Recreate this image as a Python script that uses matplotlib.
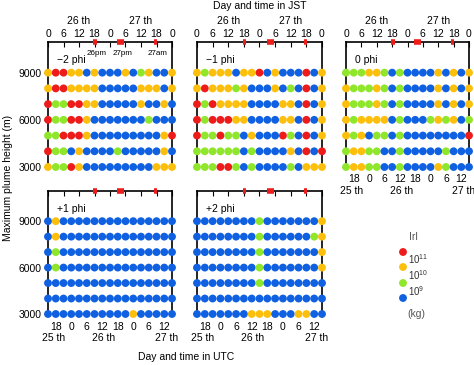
import matplotlib.pyplot as plt
import numpy as np

plt.rcParams['font.family'] = ['Liberation Sans', 'DejaVu Sans']
plt.rcParams['font.size'] = 7.5
plt.rcParams['mathtext.fontset'] = 'custom'
plt.rcParams['mathtext.rm'] = 'Liberation Sans'

# time axis (hours from 26th 00 JST), every 3 h
hours = np.arange(0, 49, 3)
heights = [9000, 8000, 7000, 6000, 5000, 4000, 3000]

jst_ticks = [0, 6, 12, 18, 24, 30, 36, 42, 48]
jst_labels = ['0', '6', '12', '18', '0', '6', '12', '18', '0']
jst_day_pos = [12, 36]
jst_day_labels = ['26 th', '27 th']

utc_ticks = [3, 9, 15, 21, 27, 33, 39, 45]
utc_labels = ['18', '0', '6', '12', '18', '0', '6', '12']
utc_day_pos = [2, 21.5, 46]
utc_day_labels = ['25 th', '26 th', '27 th']

eruptions = [(17.5, 19.0), (26.7, 29.4), (41.0, 42.2)]
eruption_labels = ['26pm', '27pm', '27am']

# mass class per cell: R 1e11, Y 1e10, G 1e9, B below; rows 9000 m -> 3000 m
grid_m2 = ["YRRYYBYBBBYBGYBBY",
           "YRRYYYYBBBBBYYYBY",
           "RGGRRYYBBBBBYBBYB",
           "RGGRRYBBBBBBBGBBB",
           "GGRRRYBBBBBBBBBYR",
           "RGGBYBBBBGBBBBBYB",
           "YGGRYBBBBBBBBBYYY"]
grid_m1 = ["YGYYYBYYRBYBBBRBY",
           "YRYYYGYBBBYBGBRBY",
           "RGRYYYYBBBBYYBRBY",
           "RGRRRYYBBBBYYBRBY",
           "RGGRGGBYBBBRGBRBY",
           "GGGGGGBGBBBBYBRBR",
           "GGGRRGBGBBBBGBYYY"]
grid_0 = ["GGGYYGBGBBBBYBYBY",
          "YGGGYGBGBBBBYBYBY",
          "YGGGYGBGBBBBYBYBY",
          "YGYYYYBGBBBGYGYBG",
          "YGYBGGBGBBBBBBBBR",
          "GYYGGBBGBBBBBGBBB",
          "GYYGGBBGBBBBYGBBB"]
grid_p1 = ["BYBBBBBBBBBBBBBBB",
           "BYBBBBBBBBBBBBBBB",
           "BGBBBBBBBBBBBBBBB",
           "BGBBBBBBBBBBBBBBB",
           "BBBBBBBBBBBBBBBBB",
           "BBBBBBBBBBBBBBBBB",
           "BBBBBBBBBBBYBBBBB"]
grid_p2 = ["BBBBBBBBGBBBBBBBY",
           "BBBBBBBBGBBBBBBGY",
           "BBBBBBBBGBBBBBBBY",
           "BBBBBBBBGBBBBBBBY",
           "BBBBBBBBGBBBBBBBB",
           "BBBBBBBBBBBBBBBBB",
           "BBBBBBBYYYBBBYYBB"]

colors = {'R': '#ee1b1b', 'Y': '#fcc00c', 'G': '#8fe62a', 'B': '#1060e2'}

W, H = 474, 365
fig = plt.figure(figsize=(W / 100, H / 100), dpi=100)


def add_panel(grid, name, left, right, top, bottom, jst_lab, utc_lab, y_lab, erup_lab):
    ax = fig.add_axes([left / W, 1 - bottom / H, (right - left) / W, (bottom - top) / H])
    ax.set_xlim(0, 48)
    ax.set_ylim(3000, 10950)
    for h, row in zip(heights, grid):
        ax.scatter(hours, [h] * len(hours), s=32, c=[colors[k] for k in row],
                   linewidths=0, clip_on=False, zorder=3)

    ax.spines['bottom'].set_visible(False)
    for s in ['left', 'right', 'top']:
        ax.spines[s].set_linewidth(1.2)

    ax.set_xticks(jst_ticks)
    ax.set_xticklabels(jst_labels)
    ax.tick_params(axis='x', top=True, bottom=False, labeltop=jst_lab, labelbottom=False,
                   direction='in', length=3.5, width=0.8, pad=2.5)
    ax.set_yticks([3000, 6000, 9000])
    ax.tick_params(axis='y', left=True, right=False, labelleft=y_lab,
                   direction='out', length=3, width=0.8, pad=1.5)

    if jst_lab:
        for x, lab in zip(jst_day_pos, jst_day_labels):
            ax.annotate(lab, xy=(x, 1), xycoords=('data', 'axes fraction'),
                        xytext=(0, 15), textcoords='offset points', ha='center', va='center')
    if utc_lab:
        for x, lab in zip(utc_ticks, utc_labels):
            ax.annotate(lab, xy=(x, 0), xycoords=('data', 'axes fraction'),
                        xytext=(0, -9), textcoords='offset points', ha='center', va='center')
        for x, lab in zip(utc_day_pos, utc_day_labels):
            ax.annotate(lab, xy=(x, 0), xycoords=('data', 'axes fraction'),
                        xytext=(0, -17.5), textcoords='offset points', ha='center', va='center')

    for (a, b), lab in zip(eruptions, eruption_labels):
        ax.plot([a, b], [1, 1], transform=ax.get_xaxis_transform(), color='#ee1b1b',
                lw=4, solid_capstyle='butt', clip_on=False, zorder=5)
        if erup_lab:
            ax.annotate(lab, xy=((a + b) / 2 + 0.7, 1), xycoords=('data', 'axes fraction'),
                        xytext=(0, -8.5), textcoords='offset points', ha='center',
                        va='center', fontsize=5.8)

    ax.text(0.07, 1 - 18 / (bottom - top), name, transform=ax.transAxes,
            ha='left', va='center')
    return ax


add_panel(grid_m2, '\u22122 phi', 48, 172, 42, 167, True, False, True, True)
add_panel(grid_m1, '\u22121 phi', 197, 322, 42, 167, True, False, False, False)
add_panel(grid_0, '0 phi', 346, 469, 42, 167, True, True, False, False)
add_panel(grid_p1, '+1 phi', 48, 172, 191, 314, False, True, True, False)
add_panel(grid_p2, '+2 phi', 197, 322, 191, 314, False, True, False, False)

# overlay in pixel coordinates for titles and legend
ov = fig.add_axes([0, 0, 1, 1])
ov.set_xlim(0, W)
ov.set_ylim(H, 0)
ov.axis('off')

ov.text(260, 6, 'Day and time in JST', ha='center', va='center')
ov.text(186, 357, 'Day and time in UTC', ha='center', va='center')
ov.text(8, 178, 'Maximum plume height (m)', ha='center', va='center', rotation=90)

legend_keys = ['R', 'Y', 'G', 'B']
legend_labels = ['10$^{11}$', '10$^{10}$', '10$^{9}$']
ov.text(413, 237, 'Irl', ha='center', va='center', color='#555555')
ly = [252, 267, 283, 298]
ov.scatter([403] * 4, ly, s=32, c=[colors[k] for k in legend_keys], linewidths=0)
for y, lab in zip([259, 275, 291], legend_labels):
    ov.text(408, y, lab, ha='left', va='center', color='#333333', fontsize=7)
ov.text(416, 314, '(kg)', ha='center', va='center', color='#555555')

fig.savefig('out.png', dpi=100)
